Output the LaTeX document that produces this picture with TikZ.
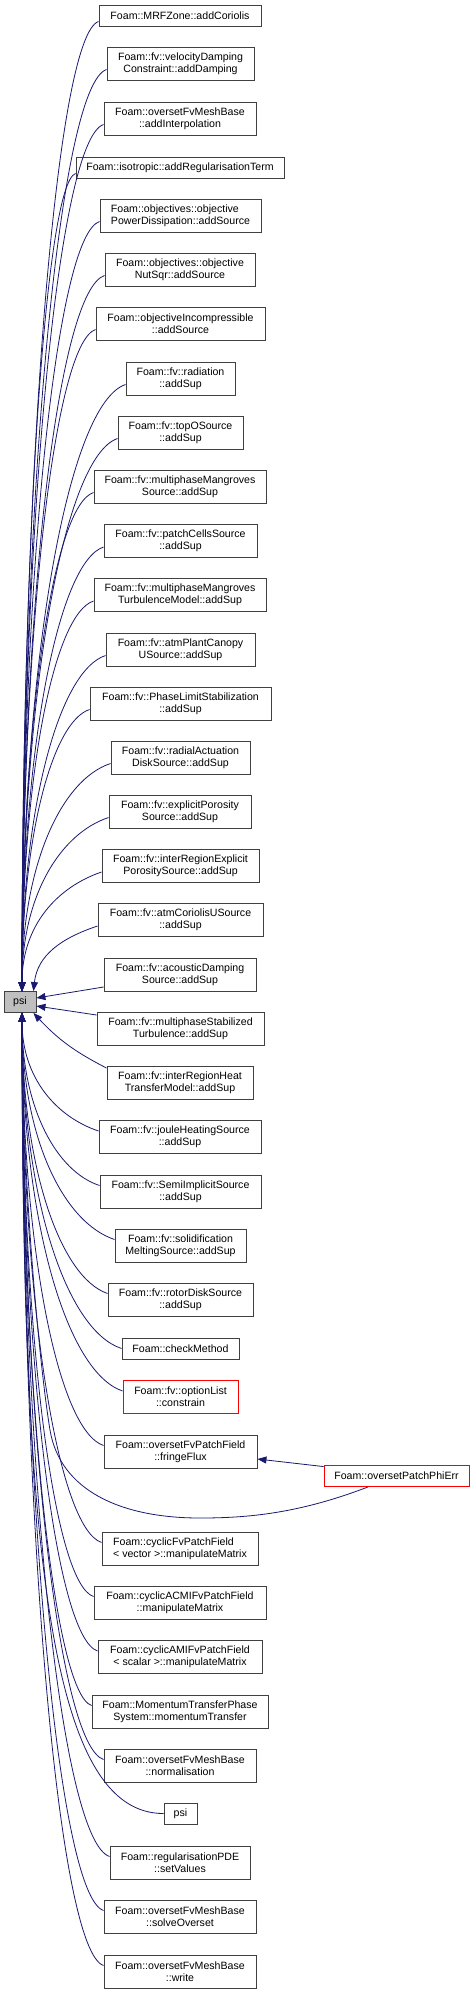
\documentclass[tikz,border=0pt]{standalone}
\usepackage{fontspec}
\setmainfont{Liberation Sans}
\usetikzlibrary{arrows.meta}
\definecolor{edgeblue}{RGB}{25,25,112}
\definecolor{boxgray}{RGB}{64,64,64}
\definecolor{psifill}{RGB}{191,191,191}
\definecolor{boxred}{RGB}{255,0,0}
\tikzset{
  box/.style={draw=boxgray, line width=0.9pt, fill=white, inner sep=0pt, align=center,
    font=\fontsize{10.6}{12.2}\selectfont, minimum height=33pt},
  one/.style={minimum height=21pt},
  redbox/.style={draw=boxred},
  caller/.style={draw=edgeblue, line width=0.8pt, -{Triangle[length=9pt,width=7pt]}},
}
\begin{document}
\begin{tikzpicture}[x=1pt,y=-1pt]
\fill[white] (0,0) rectangle (474,1993);
\useasboundingbox (0,0) rectangle (474,1993);

\node[box, one, fill=psifill, minimum width=32pt] (psi) at (20,1002) {psi};

\node[box, one, minimum width=162pt] (n1) at (180,15.5) {Foam::MRFZone::addCoriolis};
\node[box, minimum width=147pt] (n2) at (180.5,63.5) {Foam::fv::velocityDamping\\Constraint::addDamping};
\node[box, minimum width=152pt] (n3) at (180,118.5) {Foam::oversetFvMeshBase\\::addInterpolation};
\node[box, one, minimum width=208pt] (n4) at (180,167.5) {Foam::isotropic::addRegularisationTerm};
\node[box, align=left, minimum width=161pt] (n5) at (180.5,215.5) {Foam::objectives::objective\\PowerDissipation::addSource};
\node[box, minimum width=150pt] (n6) at (180,269.5) {Foam::objectives::objective\\NutSqr::addSource};
\node[box, minimum width=169pt] (n7) at (180.5,323.5) {Foam::objectiveIncompressible\\::addSource};
\node[box, minimum width=109pt] (n8) at (180.5,378.5) {Foam::fv::radiation\\::addSup};
\node[box, minimum width=125pt] (n9) at (180.5,432.5) {Foam::fv::topOSource\\::addSup};
\node[box, minimum width=172pt] (n10) at (180,486.5) {Foam::fv::multiphaseMangroves\\Source::addSup};
\node[box, minimum width=153pt] (n11) at (180.5,541) {Foam::fv::patchCellsSource\\::addSup};
\node[box, minimum width=172pt] (n12) at (180,595) {Foam::fv::multiphaseMangroves\\TurbulenceModel::addSup};
\node[box, minimum width=149pt] (n13) at (180.5,649.5) {Foam::fv::atmPlantCanopy\\USource::addSup};
\node[box, minimum width=181pt] (n14) at (180.5,703.5) {Foam::fv::PhaseLimitStabilization\\::addSup};
\node[box, minimum width=139pt] (n15) at (180.5,757.5) {Foam::fv::radialActuation\\DiskSource::addSup};
\node[box, minimum width=142pt] (n16) at (180,811.5) {Foam::fv::explicitPorosity\\Source::addSup};
\node[box, minimum width=157pt] (n17) at (180.5,866) {Foam::fv::interRegionExplicit\\PorositySource::addSup};
\node[box, minimum width=165pt] (n18) at (180.5,920) {Foam::fv::atmCoriolisUSource\\::addSup};
\node[box, minimum width=152pt] (n19) at (180,974.5) {Foam::fv::acousticDamping\\Source::addSup};
\node[box, minimum width=167pt] (n20) at (180.5,1028.5) {Foam::fv::multiphaseStabilized\\Turbulence::addSup};
\node[box, minimum width=146pt] (n21) at (180,1082.5) {Foam::fv::interRegionHeat\\TransferModel::addSup};
\node[box, minimum width=162pt] (n22) at (180,1137) {Foam::fv::jouleHeatingSource\\::addSup};
\node[box, minimum width=161pt] (n23) at (180.5,1191.5) {Foam::fv::SemiImplicitSource\\::addSup};
\node[box, minimum width=131pt] (n24) at (180.5,1245.5) {Foam::fv::solidification\\MeltingSource::addSup};
\node[box, minimum width=145pt] (n25) at (180.5,1299.5) {Foam::fv::rotorDiskSource\\::addSup};
\node[box, one, minimum width=117pt] (n26) at (180.5,1348.5) {Foam::checkMethod};
\node[box, redbox, minimum width=115pt] (n27) at (180.5,1397) {Foam::fv::optionList\\::constrain};
\node[box, minimum width=153pt] (n28) at (180.5,1451.5) {Foam::oversetFvPatchField\\::fringeFlux};
\node[box, one, redbox, minimum width=145pt] (n29) at (396.5,1476) {Foam::oversetPatchPhiErr};
\node[box, align=left, minimum width=156pt] (n30) at (180,1548.5) {Foam::cyclicFvPatchField\\< vector >::manipulateMatrix};
\node[box, minimum width=172pt] (n31) at (180,1602.5) {Foam::cyclicACMIFvPatchField\\::manipulateMatrix};
\node[box, minimum width=164pt] (n32) at (180,1657) {Foam::cyclicAMIFvPatchField\\< scalar >::manipulateMatrix};
\node[box, minimum width=176pt] (n33) at (180,1711.5) {Foam::MomentumTransferPhase\\System::momentumTransfer};
\node[box, minimum width=152pt] (n34) at (180,1765.5) {Foam::oversetFvMeshBase\\::normalisation};
\node[box, one, minimum width=33pt] (n35) at (180.5,1813.5) {psi};
\node[box, minimum width=140pt] (n36) at (180,1862.5) {Foam::regularisationPDE\\::setValues};
\node[box, minimum width=152pt] (n37) at (180,1916.5) {Foam::oversetFvMeshBase\\::solveOverset};
\node[box, minimum width=152pt] (n38) at (180,1971.5) {Foam::oversetFvMeshBase\\::write};

% callers above psi
\draw[caller] ([yshift=-6pt]n1.west) .. controls +(-42,14) and +(0,-534) .. ([xshift=2pt]psi.north);
\draw[caller] ([yshift=-6pt]n2.west) .. controls +(-47,16) and +(0,-507) .. ([xshift=2pt]psi.north);
\draw[caller] ([yshift=-6pt]n3.west) .. controls +(-45,15) and +(0,-477) .. ([xshift=2pt]psi.north);
\draw[caller] ([yshift=-6pt]n4.west) .. controls +(-30,10) and +(0,-450) .. ([xshift=2pt]psi.north);
\draw[caller] ([yshift=-6pt]n5.west) .. controls +(-43,14) and +(0,-424) .. ([xshift=2pt]psi.north);
\draw[caller] ([yshift=-6pt]n6.west) .. controls +(-46,15) and +(0,-394) .. ([xshift=2pt]psi.north);
\draw[caller] ([yshift=-6pt]n7.west) .. controls +(-41,14) and +(0,-364) .. ([xshift=2pt]psi.north);
\draw[caller] ([yshift=-6pt]n8.west) .. controls +(-57,19) and +(0,-334) .. ([xshift=2pt]psi.north);
\draw[caller] ([yshift=-6pt]n9.west) .. controls +(-53,18) and +(0,-304) .. ([xshift=2pt]psi.north);
\draw[caller] ([yshift=-6pt]n10.west) .. controls +(-40,13) and +(0,-275) .. ([xshift=2pt]psi.north);
\draw[caller] ([yshift=-6pt]n11.west) .. controls +(-45,15) and +(0,-245) .. ([xshift=2pt]psi.north);
\draw[caller] ([yshift=-6pt]n12.west) .. controls +(-40,13) and +(0,-215) .. ([xshift=2pt]psi.north);
\draw[caller] ([yshift=-6pt]n13.west) .. controls +(-46,15) and +(0,-185) .. ([xshift=2pt]psi.north);
\draw[caller] ([yshift=-6pt]n14.west) .. controls +(-37,12) and +(0,-155) .. ([xshift=2pt]psi.north);
\draw[caller] ([yshift=-6pt]n15.west) .. controls +(-49,16) and +(0,-126) .. ([xshift=2pt]psi.north);
\draw[caller] ([yshift=-6pt]n16.west) .. controls +(-48,16) and +(0,-96) .. ([xshift=2pt]psi.north);
\draw[caller] ([yshift=-6pt]n17.west) .. controls +(-44,15) and +(0,-66) .. ([xshift=2pt]psi.north);
\draw[caller] ([yshift=-6pt]n18.west) .. controls +(-36,12) and +(4,-36) .. ([xshift=-3pt]psi.north east);
\draw[caller] ([yshift=-12.5pt]n19.west) -- ([yshift=4pt]psi.east);
% callers below psi
\draw[caller] ([yshift=13.5pt]n20.west) -- ([yshift=-4pt]psi.east);
\draw[caller] ([yshift=14.5pt]n21.west) to[bend left=10] ([xshift=-3pt]psi.south east);
\draw[caller] ([yshift=6pt]n22.west) .. controls +(-42,-14) and +(0,65) .. ([xshift=2pt]psi.south);
\draw[caller] ([yshift=6pt]n23.west) .. controls +(-43,-14) and +(0,95) .. ([xshift=2pt]psi.south);
\draw[caller] ([yshift=6pt]n24.west) .. controls +(-51,-17) and +(0,125) .. ([xshift=2pt]psi.south);
\draw[caller] ([yshift=6pt]n25.west) .. controls +(-47,-16) and +(0,155) .. ([xshift=2pt]psi.south);
\draw[caller] (n26.west) .. controls +(-55,-18) and +(0,185) .. ([xshift=2pt]psi.south);
\draw[caller] ([yshift=6pt]n27.west) .. controls +(-56,-19) and +(0,208) .. ([xshift=2pt]psi.south);
\draw[caller] ([yshift=6pt]n28.west) .. controls +(-45,-15) and +(0,238) .. ([xshift=2pt]psi.south);
\draw[caller] ([xshift=-28.5pt]n29.south) .. controls +(-68,26) and +(50,0) .. (200,1518)
   .. controls +(-80,0) and +(10,60) .. (50,1430)
   .. controls +(-10,-60) and +(0,170) .. ([xshift=2pt]psi.south);
\draw[caller] ([yshift=-1.5pt]n29.north west) -- ([yshift=-7.5pt]n28.east);
\draw[caller] ([yshift=6pt]n30.west) .. controls +(-44,-15) and +(0,292) .. ([xshift=2pt]psi.south);
\draw[caller] ([yshift=6pt]n31.west) .. controls +(-40,-13) and +(0,321) .. ([xshift=2pt]psi.south);
\draw[caller] ([yshift=6pt]n32.west) .. controls +(-42,-14) and +(0,351) .. ([xshift=2pt]psi.south);
\draw[caller] ([yshift=6pt]n33.west) .. controls +(-38,-13) and +(0,381) .. ([xshift=2pt]psi.south);
\draw[caller] ([yshift=6pt]n34.west) .. controls +(-45,-15) and +(0,411) .. ([xshift=2pt]psi.south);
\draw[caller] (n35.west) .. controls +(-110,0) and +(0,560) .. ([xshift=2pt]psi.south);
\draw[caller] ([yshift=6pt]n36.west) .. controls +(-48,-16) and +(0,464) .. ([xshift=2pt]psi.south);
\draw[caller] ([yshift=6pt]n37.west) .. controls +(-45,-15) and +(0,494) .. ([xshift=2pt]psi.south);
\draw[caller] ([yshift=6pt]n38.west) .. controls +(-45,-15) and +(0,524) .. ([xshift=2pt]psi.south);
\end{tikzpicture}
\end{document}
